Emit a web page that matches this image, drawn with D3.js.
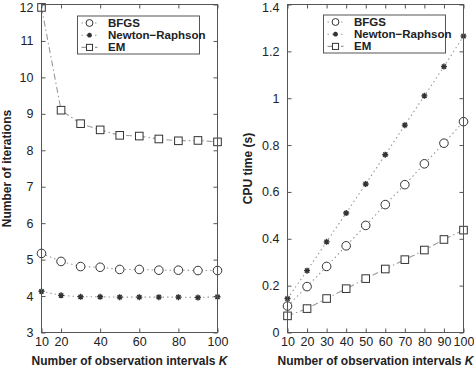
<!DOCTYPE html>
<html>
<head>
<meta charset="utf-8">
<script src="https://cdn.jsdelivr.net/npm/d3@7"></script>
<style>
  body { margin: 0; background: #fff; }
  svg { display: block; font-family: "Liberation Sans", Arial, sans-serif; }
</style>
</head>
<body>
<script>
// observation intervals
const K = [10, 20, 30, 40, 50, 60, 70, 80, 90, 100];

// number of iterations
const iterBFGS = [5.17, 4.95, 4.81, 4.79, 4.73, 4.73, 4.71, 4.71, 4.70, 4.70];
const iterNR = [4.13, 4.02, 3.98, 3.98, 3.97, 3.97, 3.97, 3.97, 3.96, 3.98];
const iterEM = [11.92, 9.10, 8.73, 8.56, 8.41, 8.39, 8.31, 8.26, 8.27, 8.23];

// CPU time (s)
const cpuBFGS = [0.113, 0.196, 0.282, 0.370, 0.457, 0.546, 0.631, 0.720, 0.808, 0.900];
const cpuNR = [0.145, 0.264, 0.387, 0.510, 0.634, 0.759, 0.885, 1.010, 1.135, 1.265];
const cpuEM = [0.071, 0.102, 0.145, 0.187, 0.230, 0.271, 0.311, 0.352, 0.397, 0.437];

const leftXTicks = [10, 20, 40, 60, 80, 100];
const rightXTicks = [10, 20, 30, 40, 50, 60, 70, 80, 90, 100];
const leftYTicks = [3, 4, 5, 6, 7, 8, 9, 10, 11, 12];
const rightYTicks = [0, 0.2, 0.4, 0.6, 0.8, 1, 1.2, 1.4];

const legendNames = ["BFGS", "Newton\u2212Raphson", "EM"];

const W = 474, H = 368;
const svg = d3.select("body").append("svg").attr("width", W).attr("height", H);

const axisColor = "#555";
const lineColor = "#9a9a9a";
const markColor = "#333";

const styles = {
  BFGS: { dash: "1.5,3", marker: "circle" },
  NR: { dash: "1.5,3", marker: "star" },
  EM: { dash: "6,3,1.5,3", marker: "square" }
};

function drawMarker(g, type, x, y, s = 1) {
  if (type === "circle") {
    g.append("circle").attr("cx", x).attr("cy", y).attr("r", 4.3 * s)
      .attr("fill", "#fff").attr("stroke", markColor).attr("stroke-width", 1);
  } else if (type === "square") {
    const h = 3.8 * s;
    g.append("rect").attr("x", x - h).attr("y", y - h).attr("width", 2 * h).attr("height", 2 * h)
      .attr("fill", "#fff").attr("stroke", markColor).attr("stroke-width", 1);
  } else {
    const r = 3 * s;
    const p = [];
    for (let a = 0; a < 4; a++) {
      const t = a * Math.PI / 4;
      p.push(`M${x - r * Math.cos(t)},${y - r * Math.sin(t)}L${x + r * Math.cos(t)},${y + r * Math.sin(t)}`);
    }
    g.append("path").attr("d", p.join("")).attr("stroke", markColor).attr("stroke-width", 1.4);
  }
}

function panel(opt) {
  const { left, right, top, bottom, yDomain, xTicks, yTicks, yFmt, series, yTitle, legend } = opt;
  const x = d3.scaleLinear().domain([10, 100]).range([left, right]);
  const y = d3.scaleLinear().domain(yDomain).range([bottom, top]);
  const g = svg.append("g");

  // series
  series.forEach(s => {
    const line = d3.line().x((d, i) => x(K[i])).y(d => y(d));
    g.append("path").datum(s.values).attr("d", line)
      .attr("fill", "none").attr("stroke", lineColor).attr("stroke-width", 1.1)
      .attr("stroke-dasharray", styles[s.key].dash);
    s.values.forEach((v, i) => drawMarker(g, styles[s.key].marker, x(K[i]), y(v)));
  });

  // frame
  g.append("rect").attr("x", left).attr("y", top).attr("width", right - left).attr("height", bottom - top)
    .attr("fill", "none").attr("stroke", axisColor).attr("stroke-width", 1);

  // axes with inward ticks, mirrored on top/right
  const ax = g.append("g").attr("transform", `translate(0,${bottom})`)
    .call(d3.axisBottom(x).tickValues(xTicks).tickSize(-4).tickPadding(5).tickFormat(d3.format("d")));
  const axTop = g.append("g").attr("transform", `translate(0,${top})`)
    .call(d3.axisTop(x).tickValues(xTicks).tickSize(-4).tickFormat(""));
  const ay = g.append("g").attr("transform", `translate(${left},0)`)
    .call(d3.axisLeft(y).tickValues(yTicks).tickSize(-4).tickPadding(8).tickFormat(yFmt));
  const ayR = g.append("g").attr("transform", `translate(${right},0)`)
    .call(d3.axisRight(y).tickValues(yTicks).tickSize(-4).tickFormat(""));
  [ax, axTop, ay, ayR].forEach(a => {
    a.select(".domain").remove();
    a.selectAll("line").attr("stroke", axisColor);
    a.selectAll("text").attr("fill", "#222").style("font-size", "12.5px")
      .style("font-family", "\"Liberation Sans\", Arial, sans-serif");
  });
  // top label sits against the image edge
  ay.selectAll(".tick").filter(d => d === yDomain[1]).select("text").attr("dy", "0.55em");

  // titles
  const xt = g.append("text").attr("x", (left + right) / 2).attr("y", 365)
    .attr("text-anchor", "middle").attr("font-weight", "bold").attr("font-size", 12).attr("fill", "#222");
  xt.append("tspan").text("Number of observation intervals ");
  xt.append("tspan").attr("font-style", "italic").text("K");
  g.append("text").attr("transform", `translate(${opt.yTitleX},${(top + bottom) / 2}) rotate(-90)`)
    .attr("text-anchor", "middle").attr("font-weight", "bold").attr("font-size", 12).attr("fill", "#222")
    .text(yTitle);

  // legend
  const lg = g.append("g");
  lg.append("rect").attr("x", legend.x).attr("y", legend.y).attr("width", legend.w).attr("height", 38)
    .attr("fill", "#fff").attr("stroke", axisColor).attr("stroke-width", 1);
  ["BFGS", "NR", "EM"].forEach((k, i) => {
    const ly = legend.y + 7 + i * 12.2;
    lg.append("line").attr("x1", legend.x + 4).attr("x2", legend.x + 20).attr("y1", ly).attr("y2", ly)
      .attr("stroke", lineColor).attr("stroke-width", 1.1).attr("stroke-dasharray", styles[k].dash);
    drawMarker(lg, styles[k].marker, legend.x + 12, ly, 0.8);
    lg.append("text").attr("x", legend.x + 30.5).attr("y", ly + 4)
      .attr("font-weight", "bold").attr("font-size", 11.5).attr("fill", "#222").text(legendNames[i]);
  });
}

panel({
  left: 41.5, right: 217.5, top: 4.5, bottom: 332.5,
  yDomain: [3, 12], xTicks: leftXTicks, yTicks: leftYTicks, yFmt: d3.format("d"),
  series: [
    { key: "BFGS", values: iterBFGS },
    { key: "NR", values: iterNR },
    { key: "EM", values: iterEM }
  ],
  yTitle: "Number of iterations", yTitleX: 11,
  legend: { x: 77.5, y: 16, w: 122 }
});

panel({
  left: 287.5, right: 463.5, top: 4.5, bottom: 332.5,
  yDomain: [0, 1.4], xTicks: rightXTicks, yTicks: rightYTicks, yFmt: d => d3.format("")(+d.toFixed(1)),
  series: [
    { key: "BFGS", values: cpuBFGS },
    { key: "NR", values: cpuNR },
    { key: "EM", values: cpuEM }
  ],
  yTitle: "CPU time (s)", yTitleX: 252,
  legend: { x: 323.5, y: 15, w: 122 }
});
</script>
</body>
</html>
